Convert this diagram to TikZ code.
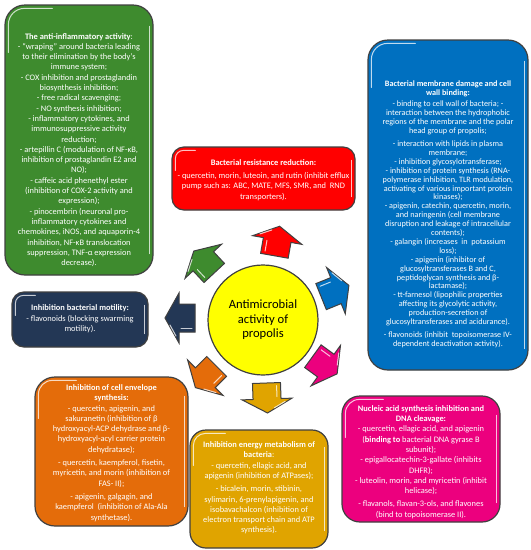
\documentclass[tikz,border=0pt]{standalone}
\usepackage{fontspec}
\setmainfont{Carlito}
\definecolor{cgreen}{RGB}{62,139,46}
\definecolor{cred}{RGB}{255,0,0}
\definecolor{cblue}{RGB}{0,112,192}
\definecolor{cdark}{RGB}{35,55,85}
\definecolor{corange}{RGB}{228,108,10}
\definecolor{cgold}{RGB}{224,164,0}
\definecolor{cmag}{RGB}{236,0,126}
\definecolor{cyel}{RGB}{255,255,0}
\definecolor{cborder}{RGB}{64,64,64}
\tikzset{
  box/.style={draw=cborder, line width=1.2pt, rounded corners=#1, inner sep=0pt},
  box/.default=14pt,
  txt/.style={text=white, align=center, inner sep=0pt, font=\fontsize{8.4}{10.3}\selectfont},
  arrbody/.style={draw=cborder, line width=1pt, line join=miter, fill=#1},
  hl/.style={draw=white, line width=1pt, opacity=0.75, line cap=round},
}
\newcommand\hlbox[2]{%
  \draw[hl, rounded corners=#2] ([shift={(4pt,-3*#2)}]#1.north west) |- ([shift={(3*#2,-4pt)}]#1.north west);
  \draw[hl] ([shift={(-4pt,-#2-6pt)}]#1.north east) -- ([shift={(-4pt,#2+6pt)}]#1.south east);}
\newcommand\blockarrow[3]{%
  \begin{scope}[shift={#1}, rotate=#2]
    \draw[arrbody=#3] (15pt,0pt) -- (1pt,25pt) -- (1pt,14pt) -- (-15pt,14pt)
      -- (-15pt,-14pt) -- (1pt,-14pt) -- (1pt,-25pt) -- cycle;
    \draw[hl] (-12pt,10pt) -- (-1pt,10pt);
    \draw[hl] (4pt,18pt) -- (10pt,7pt);
  \end{scope}}
\begin{document}
\begin{tikzpicture}[x=1pt,y=-1pt]
\fill[white] (0,0) rectangle (531,550);
\useasboundingbox (0,0) rectangle (531,550);

% arrows
\blockarrow{(277,241)}{80}{cred}
\blockarrow{(335,291)}{22}{cblue}
\blockarrow{(325,365)}{-36}{cmag}
\blockarrow{(267,398)}{-88}{cgold}
\blockarrow{(206,377)}{-135}{corange}
\blockarrow{(180,318)}{180}{cdark}
\blockarrow{(204,262)}{133}{cgreen}

% centre
\node[circle, draw=cborder, line width=1.2pt, fill=cyel, minimum size=110pt, inner sep=0pt,
  align=center, font=\fontsize{12.6}{14.5}\selectfont] (centre) at (263,320)
  {Antimicrobial\\activity of\\propolis};

% green
\node[box=20pt, fill=cgreen, minimum width=148pt, minimum height=270pt] (green) at (79,140) {};
\hlbox{green}{16pt}
\node[txt] (greent) at (79,150) {\textbf{The anti-inflammatory activity}:\\
- “wraping” around bacteria leading\\
to their elimination by the body’s\\
immune system;\\
- COX inhibition and prostaglandin\\
biosynthesis inhibition;\\
- free radical scavenging;\\
- NO synthesis inhibition;\\
- inflammatory cytokines, and\\
immunosuppressive activity\\
reduction;\\
- artepillin C (modulation of NF-κB,\\
inhibition of prostaglandin E2 and\\
NO);\\
- caffeic acid phenethyl ester\\
(inhibition of COX-2 activity and\\
expression);\\
- pinocembrin (neuronal pro-\\
inflammatory cytokines and\\
chemokines, iNOS, and aquaporin-4\\
inhibition, NF-κB translocation\\
suppression, TNF-α expression\\
decrease).};

% red
\node[box=12pt, fill=cred, minimum width=183pt, minimum height=63pt] (red) at (263.5,178.5) {};
\hlbox{red}{8pt}
\node[txt] (redt) at (263.5,180) {\textbf{Bacterial resistance reduction:}\\[3pt]
- quercetin, morin, luteoin, and rutin (inhibit efflux\\
pump such as: ABC, MATE, MFS, SMR, and~ RND\\
transporters).};

% blue
\node[box=20pt, fill=cblue, minimum width=160pt, minimum height=330pt] (blue) at (448,205) {};
\hlbox{blue}{16pt}
\node[txt, font=\fontsize{8.2}{8.9}\selectfont] (bluet) at (448,214) {\textbf{Bacterial membrane damage and cell}\\
\textbf{wall binding:}\\[3pt]
- binding to cell wall of bacteria; -\\
interaction between the hydrophobic\\
regions of the membrane and the polar\\
head group of propolis;\\[4pt]
- interaction with lipids in plasma\\
membrane;\\
- inhibition glycosylotransferase;\\
- inhibition of protein synthesis (RNA-\\
polymerase inhibition, TLR modulation,\\
activating of various important protein\\
kinases);\\
- apigenin, catechin, quercetin, morin,\\
and naringenin (cell membrane\\
disruption and leakage of intracellular\\
contents);\\
- galangin (increases~ in~ potassium\\
loss);\\
- apigenin (inhibitor of\\
glucosyltransferases B and C,\\
peptidoglycan synthesis and β-\\
lactamase);\\
- tt-farnesol (lipophilic properties\\
affecting its glycolytic activity,\\
production-secretion of\\
glucosyltransferases and acidurance).\\[4pt]
- flavonoids (inhibit~ topoisomerase IV-\\
dependent deactivation activity).};

% dark
\node[box=12pt, fill=cdark, minimum width=136pt, minimum height=55pt] (dark) at (80,319.5) {};
\hlbox{dark}{8pt}
\node[txt] (darkt) at (80,319) {\textbf{Inhibition bacterial motility:}\\
- flavonoids (blocking swarming\\
motility).};

% orange
\node[box=20pt, fill=corange, minimum width=153pt, minimum height=149pt] (orange) at (111.5,451.5) {};
\hlbox{orange}{14pt}
\node[txt] (oranget) at (111.5,453) {\textbf{Inhibition of cell envelope}\\
\textbf{synthesis:}\\
- quercetin, apigenin, and\\
sakuranetin (inhibition of β\\
hydroxyacyl-ACP dehydrase and β-\\
hydroxyacyl-acyl carrier protein\\
dehydratase);\\[3pt]
- quercetin, kaempferol, fisetin,\\
myricetin, and morin (inhibition of\\
FAS- II);\\[3pt]
- apigenin, galgagin, and\\
kaempferol~ (inhibition of Ala-Ala\\
synthetase).};

% gold
\node[box=16pt, fill=cgold, minimum width=138pt, minimum height=118pt] (gold) at (259,489) {};
\hlbox{gold}{12pt}
\node[txt] (goldt) at (259,488) {\textbf{Inhibition energy metabolism of}\\
\textbf{bacteria}:\\
- quercetin, ellagic acid, and\\
apigenin (inhibition of ATPases);\\[3pt]
- bicalein, morin, stibinin,\\
sylimarin, 6-prenylapigenin, and\\
isobavachalcon (inhibition of\\
electron transport chain and ATP\\
synthesis).};

% magenta
\node[box=18pt, fill=cmag, minimum width=158pt, minimum height=126pt] (mag) at (421,459) {};
\hlbox{mag}{14pt}
\node[txt] (magt) at (421,462) {\textbf{Nucleic acid synthesis inhibition and}\\
\textbf{DNA cleavage:}\\
- quercetin, ellagic acid, and apigenin\\
(\textbf{binding to} bacterial DNA gyrase B\\
subunit);\\
- epigallocatechin-3-gallate (inhibits\\
DHFR);\\
- luteolin, morin, and myricetin (inhibit\\
helicase);\\[3pt]
- flavanols, flavan-3-ols, and flavones\\
(bind to topoisomerase II).};
\end{tikzpicture}
\end{document}
